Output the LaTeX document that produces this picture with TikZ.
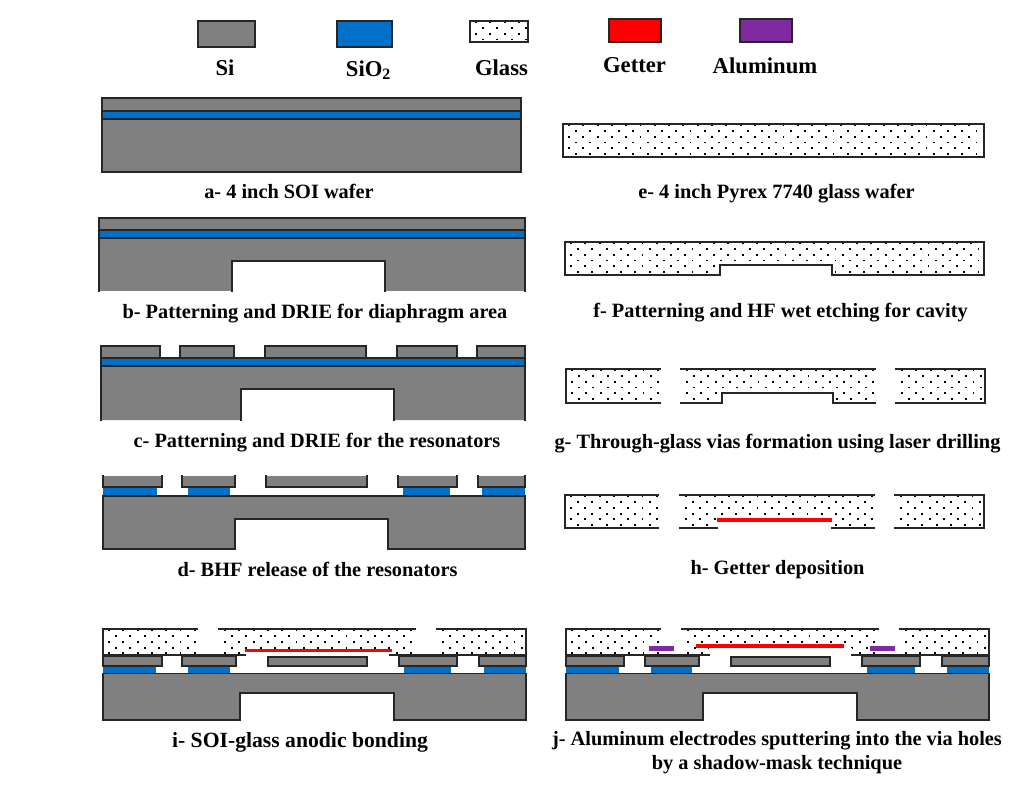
\documentclass[tikz,border=0pt]{standalone}
\usepackage{fontspec}
\setmainfont{Liberation Serif}
\definecolor{sigray}{HTML}{808080}
\definecolor{oxblue}{HTML}{0070C8}
\definecolor{getred}{HTML}{FF0000}
\definecolor{alpurple}{HTML}{7F2AA0}
\definecolor{edgeblack}{HTML}{262626}
\tikzset{
  edge/.style={line width=0.85pt,draw=edgeblack,line cap=rect,line join=miter},
  siblk/.style={fill=sigray,edge},
  oxblk/.style={fill=oxblue,edge},
  oxplain/.style={fill=oxblue},
  getterbar/.style={fill=getred},
  albar/.style={fill=alpurple},
  lab/.style={font=\bfseries\fontsize{15.25}{18}\selectfont,inner sep=0pt,text=black,anchor=base},
  labwide/.style={font=\bfseries\fontsize{16.25}{19}\selectfont,inner sep=0pt,text=black,anchor=base},
  legendlab/.style={font=\bfseries\fontsize{17}{20}\selectfont,inner sep=0pt,text=black,anchor=base}
}
% x1,y1,x2,y2 : field of staggered glass dots, clipped to the rectangle
\newcommand{\gdots}[4]{%
  \begin{scope}
    \clip (#1,#2) rectangle (#3,#4);
    \foreach \rw in {0,...,5}{
      \pgfmathsetmacro\off{mod(\rw,2)*7.15}
      \foreach \cl in {0,...,30}{
        \fill[black] (#1+5+\off+\cl*14.3,#2+0.5+\rw*5.7) rectangle ++(1.9,1.9);
      }
    }
  \end{scope}}
% base with cavity, bottom edge drawn : x1,x2,ytop,ybot,cx1,cx2,cy
\newcommand{\basefull}[7]{%
  \filldraw[siblk] (#1,#3) -- (#2,#3) -- (#2,#4) -- (#6,#4) -- (#6,#7) -- (#5,#7) -- (#5,#4) -- (#1,#4) -- cycle;}
% base with cavity, bottom edge not drawn
\newcommand{\baseopen}[7]{%
  \fill[sigray] (#1,#3) -- (#2,#3) -- (#2,#4) -- (#6,#4) -- (#6,#7) -- (#5,#7) -- (#5,#4) -- (#1,#4) -- cycle;
  \draw[edge] (#1,#4) -- (#1,#3) -- (#2,#3) -- (#2,#4);
  \draw[edge] (#5,#4) -- (#5,#7) -- (#6,#7) -- (#6,#4);}
% island, top edge drawn
\newcommand{\isl}[4]{\filldraw[siblk] (#1,#2) rectangle (#3,#4);}
% island, no top edge
\newcommand{\islopen}[4]{%
  \fill[sigray] (#1,#2) rectangle (#3,#4);
  \draw[edge] (#1,#2) -- (#1,#4) -- (#3,#4) -- (#3,#2);}
\newcommand{\ox}[4]{%
  \fill[oxplain] (#1,#2) rectangle (#3,#4);
  \draw[edge] (#1,#2) -- (#3,#2) (#1,#4) -- (#3,#4);}
\begin{document}
\begin{tikzpicture}[x=0.75pt,y=-0.75pt]
\useasboundingbox (0,0) rectangle (1024,798);
\fill[white] (0,0) rectangle (1024,798);

% ---------- legend
\filldraw[siblk] (198,21) rectangle (255,47);
\filldraw[oxblk] (337,21) rectangle (392,47);
\gdots{470}{21}{528}{42}
\draw[edge] (470,21) rectangle (528,42);
\filldraw[edge,fill=getred] (609,19) rectangle (661,42);
\filldraw[edge,fill=alpurple] (740,19) rectangle (792,42);
\node[legendlab] (lSi) at (225,76) {Si};
\node[legendlab] (lOx) at (368.5,76.5) {SiO\textsubscript{2}};
\node[legendlab] (lGl) at (501.5,75.5) {Glass};
\node[legendlab] (lGe) at (634.5,72.5) {Getter};
\node[legendlab] (lAl) at (765,73.5) {Aluminum};

% ---------- a
\filldraw[siblk] (102,98) rectangle (521,111);
\filldraw[siblk] (102,119) rectangle (521,172);
\filldraw[oxblk] (102,111) rectangle (521,119);
\node[lab] (capA) at (289,199) {a- 4 inch SOI wafer};

% ---------- b
\filldraw[siblk] (99,218) rectangle (525,230);
\baseopen{99}{525}{238}{291}{232}{385}{261}
\filldraw[oxblk] (99,230) rectangle (525,238);
\node[lab] (capB) at (315,319) {b- Patterning and DRIE for diaphragm area};

% ---------- c
\isl{101}{346}{160}{358}
\isl{180}{346}{234}{358}
\isl{265}{346}{366}{358}
\isl{397}{346}{457}{358}
\isl{477}{346}{525}{358}
\baseopen{101}{525}{366}{420}{241}{394}{389}
\filldraw[oxblk] (101,358) rectangle (525,366);
\node[lab] (capC) at (317,447.5) {c- Patterning and DRIE for the resonators};

% ---------- d
\basefull{103}{525}{496}{549}{235}{388}{519}
\islopen{103}{476}{162}{487}
\islopen{182}{476}{235}{487}
\islopen{266}{476}{367}{487}
\islopen{398}{476}{457}{487}
\islopen{478}{476}{525}{487}
\ox{103}{487}{157}{496}
\ox{188}{487}{230}{496}
\ox{403}{487}{450}{496}
\ox{482}{487}{525}{496}
\node[lab] (capD) at (317.5,576.5) {d- BHF release of the resonators};

% ---------- i
\gdots{103}{629}{197}{655}
\gdots{219}{629}{415}{655}
\gdots{437}{629}{526}{655}
\fill[white] (245,650) rectangle (392,656);
\draw[edge] (197,629) -- (103,629) -- (103,655) -- (245,655);
\draw[edge] (219,629) -- (415,629);
\draw[edge] (437,629) -- (526,629) -- (526,655) -- (390,655);
\fill[getterbar] (245,649) rectangle (392,652);
\basefull{103}{526}{673.5}{720}{240}{394}{693}
\isl{103}{656}{162}{666}
\isl{182}{656}{236}{666}
\isl{268}{657}{367}{666}
\isl{399}{656}{457}{666}
\isl{479}{656}{526}{666}
\ox{103}{666}{156}{673.5}
\ox{188}{666}{230}{673.5}
\ox{404}{666}{451}{673.5}
\ox{484}{666}{526}{673.5}
\node[labwide] (capI) at (300,747.5) {i- SOI-glass anodic bonding};

% ---------- e
\gdots{563}{124}{984}{157}
\draw[edge] (563,124) rectangle (984,157);
\node[lab] (capE) at (776.5,198.5) {e- 4 inch Pyrex 7740 glass wafer};

% ---------- f
\gdots{565}{242}{984}{275}
\fill[white] (720,265) rectangle (832,277);
\draw[edge] (565,242) -- (984,242) -- (984,275) -- (832,275) -- (832,265) -- (720,265) -- (720,275) -- (565,275) -- cycle;
\node[lab] (capF) at (780.5,317.5) {f- Patterning and HF wet etching for cavity};

% ---------- g
\gdots{566}{369}{660}{403}
\gdots{681}{369}{875}{403}
\gdots{896}{369}{985}{403}
\fill[white] (722,393) rectangle (833,405);
\draw[edge] (660,369) -- (566,369) -- (566,403) -- (660,403);
\draw[edge] (875,369) -- (681,369);
\draw[edge] (681,403) -- (722,403) -- (722,393) -- (833,393) -- (833,403) -- (875,403);
\draw[edge] (896,369) -- (985,369) -- (985,403) -- (896,403);
\node[lab] (capG) at (777.5,448.5) {g- Through-glass vias formation using laser drilling};

% ---------- h
\gdots{565}{495}{658}{528}
\gdots{680}{495}{874}{528}
\gdots{895}{495}{984}{528}
\fill[white] (718,520) rectangle (832,530);
\draw[edge] (658,495) -- (565,495) -- (565,528) -- (658,528);
\draw[edge] (874,495) -- (680,495);
\draw[edge] (680,528) -- (717,528);
\draw[edge] (832,528) -- (874,528);
\draw[edge] (895,495) -- (984,495) -- (984,528) -- (895,528);
\fill[getterbar] (717,518) rectangle (832,521.5);
\node[lab] (capH) at (777.5,574.5) {h- Getter deposition};

% ---------- j
\gdots{566}{629}{660}{655}
\gdots{682}{629}{878}{655}
\gdots{900}{629}{989}{655}
\fill[white] (709,648) rectangle (852,656);
\draw[edge] (660,629) -- (566,629) -- (566,655) -- (709,655);
\draw[edge] (682,629) -- (878,629);
\draw[edge] (900,629) -- (989,629) -- (989,655) -- (852,655);
\fill[getterbar] (696,644) rectangle (844,647.5);
\fill[albar] (649,646) rectangle (674,651);
\fill[albar] (870,646) rectangle (895,651);
\basefull{566}{989}{673.5}{720}{703}{857}{693}
\isl{566}{656}{624}{666}
\isl{645}{656}{699}{666}
\isl{731}{657}{830}{666}
\isl{862}{656}{920}{666}
\isl{942}{656}{989}{666}
\ox{566}{666}{619}{673.5}
\ox{651}{666}{692}{673.5}
\ox{867}{666}{915}{673.5}
\ox{947}{666}{989}{673.5}
\node[lab] (capJa) at (777,745) {j- Aluminum electrodes sputtering into the via holes};
\node[lab] (capJb) at (777,769) {by a shadow-mask technique};
\end{tikzpicture}
\end{document}
